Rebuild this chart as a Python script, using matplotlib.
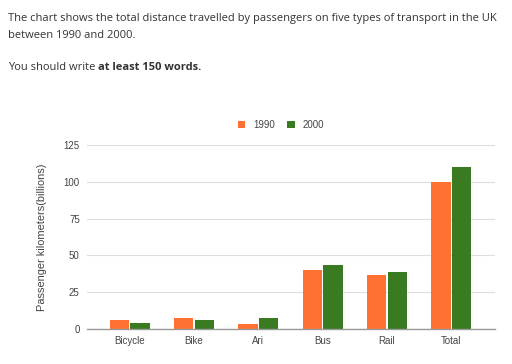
import numpy as np
from matplotlib import pyplot as plt

categories = ['Bicycle', 'Bike', 'Ari', 'Bus', 'Rail', 'Total']
values_1990 = [6.5, 7.5, 3.5, 40, 37, 100]
values_2000 = [4.5, 6.5, 7.5, 43.5, 39, 110]
series_names = ['1990', '2000']
y_ticks = [0, 25, 50, 75, 100, 125]

orange = '#ff7033'
green = '#3a7a20'

fig = plt.figure(figsize=(5.12, 3.64), dpi=100)
fig.patch.set_facecolor('white')

# prompt text on top
head_font = ['Open Sans', 'DejaVu Sans']
hs = 8.05
fig.text(8 / 512, 1 - 18 / 364,
         'The chart shows the total distance travelled by passengers on five types of transport in the UK',
         fontsize=hs, color='#333333', family=head_font, va='center')
fig.text(8 / 512, 1 - 35 / 364, 'between 1990 and 2000.',
         fontsize=hs, color='#333333', family=head_font, va='center')
t = fig.text(8 / 512, 1 - 67 / 364, 'You should write ',
             fontsize=hs, color='#333333', family=head_font, va='center')
fig.canvas.draw()
bb = t.get_window_extent()
fig.text(bb.x1 / 512, 1 - 67 / 364, 'at least 150 words.',
         fontsize=hs, color='#333333', family=head_font, va='center', fontweight='bold')

ax = fig.add_axes([86.7 / 512, 1 - 329.3 / 364, (495 - 86.7) / 512, (329.3 - 144.7) / 364])
x = np.arange(len(categories))
w = 0.3
ax.bar(x - 0.16, values_1990, w, color=orange, label=series_names[0], zorder=3)
ax.bar(x + 0.16, values_2000, w, color=green, label=series_names[1], zorder=3)

ax.set_xlim(-0.67, 5.68)
ax.set_ylim(0, 125)
ax.set_yticks(y_ticks)
ax.set_xticks(x)
ax.set_xticklabels(categories)
chart_font = ['Liberation Sans', 'DejaVu Sans']
for lab in ax.get_xticklabels() + ax.get_yticklabels():
    lab.set_family(chart_font)
    lab.set_fontsize(7)
    lab.set_color('#444444')
ax.tick_params(axis='y', length=0, pad=5)
ax.tick_params(axis='x', length=0, pad=5)
ax.grid(axis='y', color='#dddddd', linewidth=0.8, zorder=0)
for s in ['top', 'right', 'left']:
    ax.spines[s].set_visible(False)
ax.spines['bottom'].set_color('#999999')
ax.spines['bottom'].set_linewidth(1)
ax.spines['bottom'].set_zorder(4)

ax.set_ylabel('Passenger kilometers(billions)', family=chart_font, fontsize=7.9, color='#444444', labelpad=12)

ax.legend(loc='center', bbox_to_anchor=((281 - 86.7) / 408.3, 1 + (144.7 - 125) / 184.6), ncol=2,
          frameon=False, prop={'family': chart_font, 'size': 7}, handlelength=0.75, handleheight=0.75,
          columnspacing=1.3, handletextpad=0.8, labelcolor='#444444', borderpad=0)

fig.savefig('out.png', dpi=100)
